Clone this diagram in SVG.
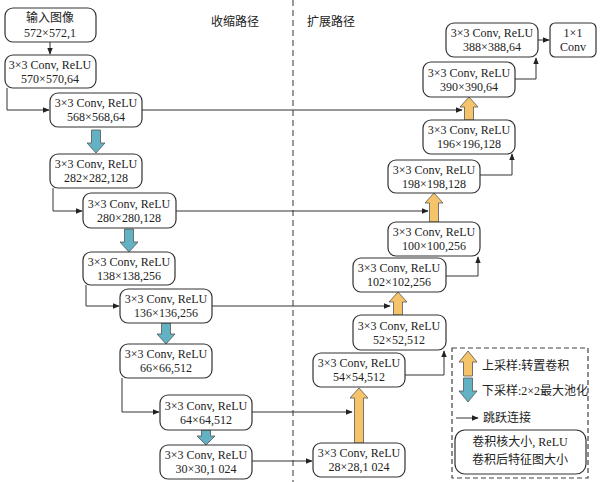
<svg xmlns="http://www.w3.org/2000/svg" width="600" height="482" viewBox="0 0 600 482">
<style>
.n rect{fill:#fff;stroke:#333;stroke-width:1.2}
text{font-family:"Liberation Serif","Noto Sans CJK SC",serif;font-size:12px;fill:#222;text-anchor:middle}
.c{fill:none;stroke:#333;stroke-width:1}
.up{fill:#F4C36A;stroke:#555;stroke-width:0.8}
.dn{fill:#62B2C4;stroke:#555;stroke-width:0.8}
.l{text-anchor:start}
</style>
<defs>
<marker id="a" viewBox="0 0 10 10" refX="9" refY="5" markerWidth="7" markerHeight="7" orient="auto"><path d="M0,1 L10,5 L0,9 Z" fill="#222"/></marker>
<path id="upA" d="M-4.5,0 L-4.5,-18 L-9,-18 L0,-26 L9,-18 L4.5,-18 L4.5,0 Z"/>
</defs>
<rect width="600" height="482" fill="#fff"/>
<line x1="293" y1="0" x2="293" y2="482" stroke="#555" stroke-dasharray="6,4" stroke-width="1.2"/>
<text x="235" y="26">收缩路径</text>
<text x="331" y="26">扩展路径</text>
<g id="connectors">
<path class="c" d="M50,42 V54" marker-end="url(#a)"/>
<path class="c" d="M7,88 V110 H49" marker-end="url(#a)"/>
<path class="c" d="M53,188 V211 H82" marker-end="url(#a)"/>
<path class="c" d="M86,285 V306 H119" marker-end="url(#a)"/>
<path class="c" d="M122,378 V412 H159" marker-end="url(#a)"/>
<path class="c" d="M142,110 H462" marker-end="url(#a)"/>
<path class="c" d="M176,211 H428" marker-end="url(#a)"/>
<path class="c" d="M212,306 H390" marker-end="url(#a)"/>
<path class="c" d="M252,412 H352" marker-end="url(#a)"/>
<path class="c" d="M252,461 H312" marker-end="url(#a)"/>
<path class="c" d="M405,375 H444 V351" marker-end="url(#a)"/>
<path class="c" d="M446,276 H478 V257" marker-end="url(#a)"/>
<path class="c" d="M480,175 H512 V154" marker-end="url(#a)"/>
<path class="c" d="M515,79 H536 V58" marker-end="url(#a)"/>
<path class="c" d="M538,40 H549" marker-end="url(#a)"/>
<g class="dn">
<path d="M91.5,130 V143 H87 L96,153 L105,143 H100.5 V130 Z"/>
<path d="M124.5,229 V242 H120 L129,252 L138,242 H133.5 V229 Z"/>
<path d="M161.5,323 V334 H157 L166,344 L175,334 H170.5 V323 Z"/>
<path d="M201.5,430 V436 H197 L206,445 L215,436 H210.5 V430 Z"/>
</g>
<g class="up">
<path d="M354.5,443 V398 H350 L359,388 L368,398 H363.5 V443 Z"/>
<path d="M393.5,315 V302 H389 L398,292 L407,302 H402.5 V315 Z"/>
<path d="M429.5,222 V203 H425 L434,193 L443,203 H438.5 V222 Z"/>
<path d="M464.5,120 V107 H460 L469,97 L478,107 H473.5 V120 Z"/>
</g>
</g>
<g id="n0" class="n"><rect x="5" y="8" width="91" height="34" rx="8"/><text x="50" y="22">输入图像</text><text x="50" y="37">572×572,1</text></g>
<g id="n1" class="n"><rect x="5" y="55" width="91" height="33" rx="8"/><text x="50" y="69">3×3 Conv, ReLU</text><text x="50" y="83">570×570,64</text></g>
<g id="n2" class="n"><rect x="50" y="93" width="92" height="34" rx="8"/><text x="96" y="107">3×3 Conv, ReLU</text><text x="96" y="121">568×568,64</text></g>
<g id="n3" class="n"><rect x="50" y="154" width="92" height="34" rx="8"/><text x="96" y="168">3×3 Conv, ReLU</text><text x="96" y="182">282×282,128</text></g>
<g id="n4" class="n"><rect x="83" y="193" width="93" height="35" rx="8"/><text x="129" y="208">3×3 Conv, ReLU</text><text x="129" y="222">280×280,128</text></g>
<g id="n5" class="n"><rect x="83" y="252" width="92" height="33" rx="8"/><text x="129" y="266">3×3 Conv, ReLU</text><text x="129" y="280">138×138,256</text></g>
<g id="n6" class="n"><rect x="120" y="289" width="92" height="34" rx="8"/><text x="166" y="303">3×3 Conv, ReLU</text><text x="166" y="317">136×136,256</text></g>
<g id="n7" class="n"><rect x="120" y="344" width="92" height="34" rx="8"/><text x="166" y="358">3×3 Conv, ReLU</text><text x="166" y="372">66×66,512</text></g>
<g id="n8" class="n"><rect x="160" y="395" width="92" height="35" rx="8"/><text x="206" y="410">3×3 Conv, ReLU</text><text x="206" y="424">64×64,512</text></g>
<g id="n9" class="n"><rect x="160" y="445" width="92" height="34" rx="8"/><text x="206" y="459">3×3 Conv, ReLU</text><text x="206" y="473">30×30,1 024</text></g>
<g id="r9" class="n"><rect x="313" y="443" width="92" height="34" rx="8"/><text x="359" y="457">3×3 Conv, ReLU</text><text x="359" y="471">28×28,1 024</text></g>
<g id="r8" class="n"><rect x="313" y="353" width="92" height="34" rx="8"/><text x="359" y="367">3×3 Conv, ReLU</text><text x="359" y="381">54×54,512</text></g>
<g id="r7" class="n"><rect x="353" y="315" width="93" height="35" rx="8"/><text x="399" y="330">3×3 Conv, ReLU</text><text x="399" y="344">52×52,512</text></g>
<g id="r6" class="n"><rect x="353" y="258" width="93" height="34" rx="8"/><text x="399" y="272">3×3 Conv, ReLU</text><text x="399" y="286">102×102,256</text></g>
<g id="r5" class="n"><rect x="388" y="222" width="92" height="34" rx="8"/><text x="434" y="236">3×3 Conv, ReLU</text><text x="434" y="250">100×100,256</text></g>
<g id="r4" class="n"><rect x="388" y="160" width="92" height="33" rx="8"/><text x="434" y="174">3×3 Conv, ReLU</text><text x="434" y="188">198×198,128</text></g>
<g id="r3" class="n"><rect x="423" y="120" width="92" height="34" rx="8"/><text x="469" y="134">3×3 Conv, ReLU</text><text x="469" y="148">196×196,128</text></g>
<g id="r2" class="n"><rect x="423" y="62" width="92" height="35" rx="8"/><text x="469" y="77">3×3 Conv, ReLU</text><text x="469" y="91">390×390,64</text></g>
<g id="r1" class="n"><rect x="446" y="23" width="92" height="34" rx="8"/><text x="492" y="37">3×3 Conv, ReLU</text><text x="492" y="51">388×388,64</text></g>
<g id="r0" class="n"><rect x="550" y="23" width="46" height="34" rx="5"/><text x="573" y="37">1×1</text><text x="573" y="51">Conv</text></g>
<g id="legend">
<rect x="452" y="348" width="136" height="130" fill="none" stroke="#444" stroke-dasharray="5,3" stroke-width="1.2"/>
<path class="up" d="M463.5,376 V362 H459 L468,351 L477,362 H472.5 V376 Z"/>
<text class="l" x="482" y="370">上采样:转置卷积</text>
<path class="dn" d="M463.5,378 V391 H459 L468,402 L477,391 H472.5 V378 Z"/>
<text class="l" x="482" y="395">下采样:2×2最大池化</text>
<path class="c" d="M456,418 H478" marker-end="url(#a)"/>
<text class="l" x="483" y="422">跳跃连接</text>
<g class="n"><rect x="455" y="430" width="131" height="44" rx="10"/></g>
<text x="520" y="446">卷积核大小, ReLU</text>
<text x="520" y="464">卷积后特征图大小</text>
</g>
</svg>
